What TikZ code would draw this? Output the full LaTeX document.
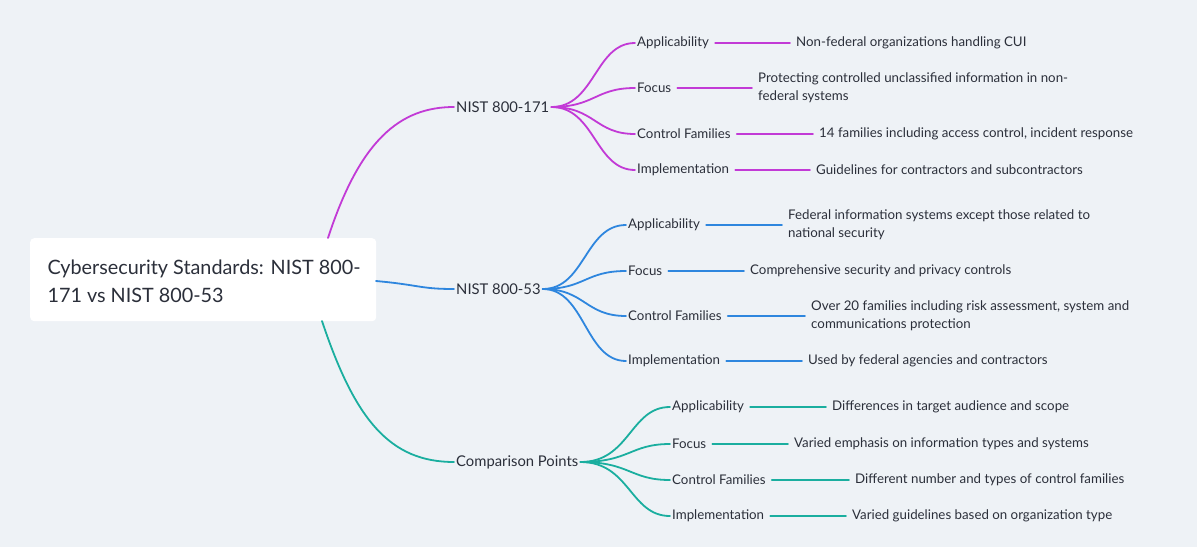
\documentclass[tikz,border=0pt]{standalone}
\usepackage{fontspec}
\setmainfont{Lato}
\definecolor{bg}{HTML}{EEF2F6}
\definecolor{mg}{HTML}{C23AD6}
\definecolor{bl}{HTML}{2E86DE}
\definecolor{tl}{HTML}{1AAE9F}
\definecolor{tx}{HTML}{2B2F3A}
\begin{document}
\begin{tikzpicture}[x=1pt,y=-1pt,
  t/.style={anchor=west,inner sep=2pt,text=tx,font=\fontsize{13.3}{18}\selectfont},
  lf/.style={t,align=left},
  c/.style={line width=1.8pt,line cap=round}]
\fill[bg] (0,0) rectangle (1197,547);
\useasboundingbox (0,0) rectangle (1197,547);
\node[fill=white,rounded corners=4pt,minimum width=346,minimum height=83,anchor=north west] (root) at (30,238) {};
\node[anchor=west,text=tx,align=left,font=\fontsize{19.8}{28}\selectfont] (rt) at (44,281) {Cybersecurity Standards: NIST 800-\\171 vs NIST 800-53};
\coordinate (r1) at (328,238);
\coordinate (r2) at (376,281);
\coordinate (r3) at (322,321);
\node[t,font=\fontsize{14.8}{18}\selectfont] (m1) at (454,107) {NIST 800-171};
\node[t,font=\fontsize{14.8}{18}\selectfont] (m2) at (454,289) {NIST 800-53};
\node[t,font=\fontsize{14.8}{18}\selectfont] (m3) at (454,462) {Comparison Points};
\draw[c,mg] (r1) .. controls (360,140) and (400,107) .. (m1.west);
\draw[c,bl] (r2) .. controls (420,285) and (420,289) .. (m2.west);
\draw[c,tl] (r3) .. controls (355,420) and (390,462) .. (m3.west);
\foreach \n/\y/\lab/\lx/\leaf in {a/43/Applicability/796/{Non-federal organizations handling CUI},
  b/88/Focus/758/{Protecting controlled unclassified information in non-\\federal systems},
  c/134/Control Families/819/{14 families including access control, incident response},
  d/170/Implementation/816/{Guidelines for contractors and subcontractors}}{
  \node[t] (p\n) at (635,\y) {\lab};
  \node[lf] (pl\n) at (\lx-2,\y) {\leaf};
  \draw[c,mg] (m1.east) .. controls (595,107) and (595,\y) .. (p\n.west);
  \draw[c,mg] ([xshift=4pt]p\n.east) -- ([xshift=-4pt]pl\n.west);
}
\foreach \n/\y/\lab/\lx/\leaf in {a/225/Applicability/788/{Federal information systems except those related to\\national security},
  b/271/Focus/750/{Comprehensive security and privacy controls},
  c/316/Control Families/811/{Over 20 families including risk assessment, system and\\communications protection},
  d/361/Implementation/808/{Used by federal agencies and contractors}}{
  \node[t] (q\n) at (626,\y) {\lab};
  \node[lf] (ql\n) at (\lx-2,\y) {\leaf};
  \draw[c,bl] (m2.east) .. controls (585,289) and (585,\y) .. (q\n.west);
  \draw[c,bl] ([xshift=4pt]q\n.east) -- ([xshift=-4pt]ql\n.west);
}
\foreach \n/\y/\lab/\lx/\leaf in {a/407/Applicability/832/{Differences in target audience and scope},
  b/444/Focus/794/{Varied emphasis on information types and systems},
  c/480/Control Families/855/{Different number and types of control families},
  d/516/Implementation/852/{Varied guidelines based on organization type}}{
  \node[t] (s\n) at (670,\y) {\lab};
  \node[lf] (sl\n) at (\lx-2,\y) {\leaf};
  \draw[c,tl] (m3.east) .. controls (630,462) and (630,\y) .. (s\n.west);
  \draw[c,tl] ([xshift=4pt]s\n.east) -- ([xshift=-4pt]sl\n.west);
}
\end{tikzpicture}
\end{document}
